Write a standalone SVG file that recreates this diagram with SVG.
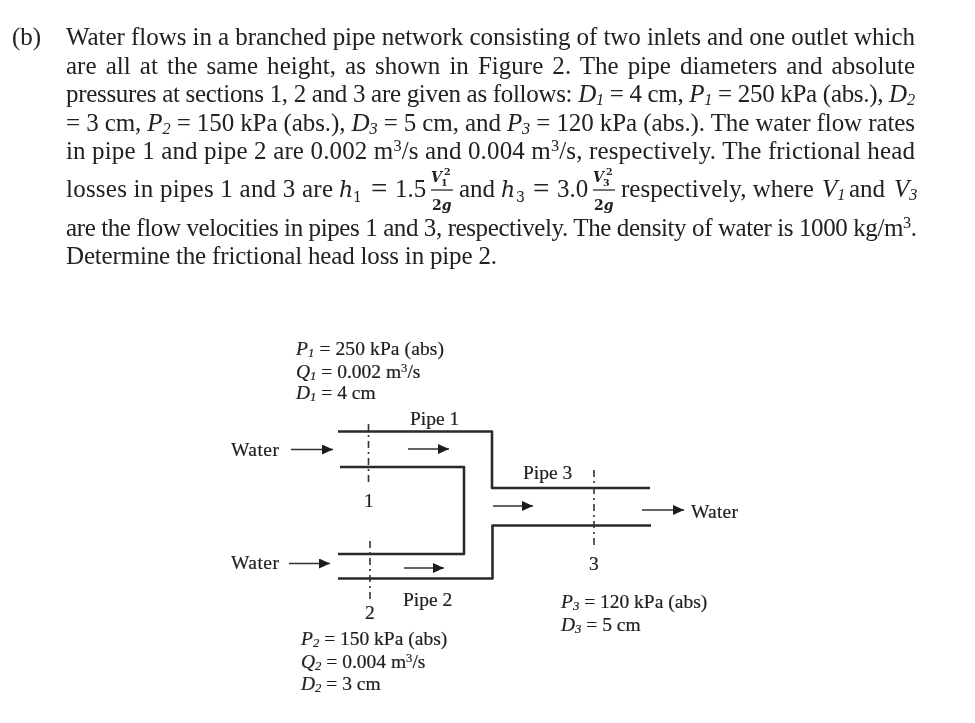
<svg xmlns="http://www.w3.org/2000/svg" width="975" height="723" viewBox="0 0 975 723">
<style>
text{font-family:"Liberation Serif","Times New Roman",serif;fill:#202020}
.b{font-size:25px}
.d{font-size:19.500px;stroke:#202020;stroke-width:.2}
.i{font-style:italic}
.s{font-size:.65em}
.w{fill:none;stroke:#2a2a2a;stroke-width:2.6;stroke-linejoin:round}
.a{fill:none;stroke:#333;stroke-width:1.6;marker-end:url(#h)}
.c{fill:none;stroke:#333;stroke-width:1.6;stroke-dasharray:7 4 2 4}
.m{font-family:"DejaVu Serif",serif;font-size:14px;font-weight:bold;font-style:italic}
.n{font-family:"DejaVu Serif",serif;font-size:9.500px;font-weight:bold}
.q{font-family:"DejaVu Serif",serif;font-size:14px;font-weight:bold}
.h{font-family:"DejaVu Serif",serif;font-size:22px;font-style:italic}
.u{font-family:"DejaVu Serif",serif;font-size:14px}
.e{font-size:29px}
</style>
<defs>
<marker id="h" markerUnits="userSpaceOnUse" markerWidth="12" markerHeight="10" refX="11" refY="5" orient="auto"><path d="M0 0L11 5L0 10Z" fill="#1c1c1c"/></marker>
<filter id="f" x="0" y="0" width="100%" height="100%"><feGaussianBlur stdDeviation="0.45"/></filter>
</defs>
<rect width="975" height="723" fill="#fff"/>
<g id="problem" filter="url(#f)">
<text class="b" x="12" y="45">(b)</text>
<text class="b" x="66" y="45" textLength="849">Water flows in a branched pipe network consisting of two inlets and one outlet which</text>
<text class="b" x="66" y="74" textLength="849" style="word-spacing:2.800px">are all at the same height, as shown in Figure 2. The pipe diameters and absolute</text>
<text class="b" x="66" y="102" textLength="849">pressures at sections 1, 2 and 3 are given as follows: <tspan class="i">D<tspan class="s" dy="3">1</tspan></tspan><tspan dy="-3"> = 4 cm, </tspan><tspan class="i">P<tspan class="s" dy="3">1</tspan></tspan><tspan dy="-3"> = 250 kPa (abs.), </tspan><tspan class="i">D<tspan class="s" dy="3">2</tspan></tspan></text>
<text class="b" x="66" y="131" textLength="849">= 3 cm, <tspan class="i">P<tspan class="s" dy="3">2</tspan></tspan><tspan dy="-3"> = 150 kPa (abs.), </tspan><tspan class="i">D<tspan class="s" dy="3">3</tspan></tspan><tspan dy="-3"> = 5 cm, and </tspan><tspan class="i">P<tspan class="s" dy="3">3</tspan></tspan><tspan dy="-3"> = 120 kPa (abs.). The water flow rates</tspan></text>
<text class="b" x="66" y="159" textLength="849">in pipe 1 and pipe 2 are 0.002 m<tspan class="s" dy="-8">3</tspan><tspan dy="8">/s and 0.004 m</tspan><tspan class="s" dy="-8">3</tspan><tspan dy="8">/s, respectively. The frictional head</tspan></text>
<text class="b" x="66" y="197" textLength="267">losses in pipes 1 and 3 are</text>
<text class="h" x="339" y="197">h</text><text class="u" x="353" y="202">1</text>
<text class="b e" x="371" y="198">=</text>
<text class="b" x="395" y="197">1.5</text>
<text class="m" x="431" y="182">V</text><text class="n" x="444" y="175">2</text><text class="n" x="441" y="186">1</text>
<line x1="431" y1="190" x2="453" y2="190" stroke="#2a2a2a" stroke-width="1.3"/>
<text class="q" x="432" y="210">2<tspan class="i">g</tspan></text>
<text class="b" x="459" y="197">and</text>
<text class="h" x="501" y="197">h</text><text class="u" x="516" y="202">3</text>
<text class="b e" x="533" y="198">=</text>
<text class="b" x="557" y="197">3.0</text>
<text class="m" x="593" y="182">V</text><text class="n" x="606" y="175">2</text><text class="n" x="603" y="186">3</text>
<line x1="593" y1="190" x2="615" y2="190" stroke="#2a2a2a" stroke-width="1.3"/>
<text class="q" x="594" y="210">2<tspan class="i">g</tspan></text>
<text class="b" x="621" y="197">respectively, where</text>
<text class="b i" x="822" y="197">V<tspan class="s" dy="3">1</tspan></text>
<text class="b" x="849" y="197">and</text>
<text class="b i" x="894" y="197">V<tspan class="s" dy="3">3</tspan></text>
<text class="b" x="66" y="236" textLength="851">are the flow velocities in pipes 1 and 3, respectively. The density of water is 1000 kg/m<tspan class="s" dy="-8">3</tspan><tspan dy="8">.</tspan></text>
<text class="b" x="66" y="264" textLength="431">Determine the frictional head loss in pipe 2.</text>
</g>
<g id="connectors" filter="url(#f)">
<path class="w" d="M338 431.500H492V488H650"/>
<path class="w" d="M340 467H464V554H338"/>
<path class="w" d="M338 578.500H492.500V525.500H651"/>
<path class="c" d="M368.500 424V482"/>
<path class="c" d="M370 541V600"/>
<path class="c" d="M594 470V546"/>
<path class="a" d="M291 449.500H333"/>
<path class="a" d="M408 449H449"/>
<path class="a" d="M289 563.500H330"/>
<path class="a" d="M404 568H444"/>
<path class="a" d="M493 506H533"/>
<path class="a" d="M642 510H684"/>
</g>
<g id="labels" filter="url(#f)">
<text class="d" x="231" y="456" textLength="48">Water</text>
<text class="d" x="231" y="569" textLength="48">Water</text>
<text class="d" x="691" y="518" textLength="47">Water</text>
<text class="d" x="410" y="425">Pipe 1</text>
<text class="d" x="403" y="606">Pipe 2</text>
<text class="d" x="523" y="479">Pipe 3</text>
<text class="d" x="364" y="507">1</text>
<text class="d" x="365" y="619">2</text>
<text class="d" x="589" y="570">3</text>
<text class="d" x="296" y="355" textLength="148"><tspan class="i">P<tspan class="s" dy="2">1</tspan></tspan><tspan dy="-2"> = 250 kPa (abs)</tspan></text>
<text class="d" x="296" y="378"><tspan class="i">Q<tspan class="s" dy="2">1</tspan></tspan><tspan dy="-2"> = 0.002 m</tspan><tspan class="s" dy="-6">3</tspan><tspan dy="6">/s</tspan></text>
<text class="d" x="296" y="399"><tspan class="i">D<tspan class="s" dy="2">1</tspan></tspan><tspan dy="-2"> = 4 cm</tspan></text>
<text class="d" x="301" y="645"><tspan class="i">P<tspan class="s" dy="2">2</tspan></tspan><tspan dy="-2"> = 150 kPa (abs)</tspan></text>
<text class="d" x="301" y="668"><tspan class="i">Q<tspan class="s" dy="2">2</tspan></tspan><tspan dy="-2"> = 0.004 m</tspan><tspan class="s" dy="-6">3</tspan><tspan dy="6">/s</tspan></text>
<text class="d" x="301" y="690"><tspan class="i">D<tspan class="s" dy="2">2</tspan></tspan><tspan dy="-2"> = 3 cm</tspan></text>
<text class="d" x="561" y="608"><tspan class="i">P<tspan class="s" dy="2">3</tspan></tspan><tspan dy="-2"> = 120 kPa (abs)</tspan></text>
<text class="d" x="561" y="631"><tspan class="i">D<tspan class="s" dy="2">3</tspan></tspan><tspan dy="-2"> = 5 cm</tspan></text>
</g>
</svg>
